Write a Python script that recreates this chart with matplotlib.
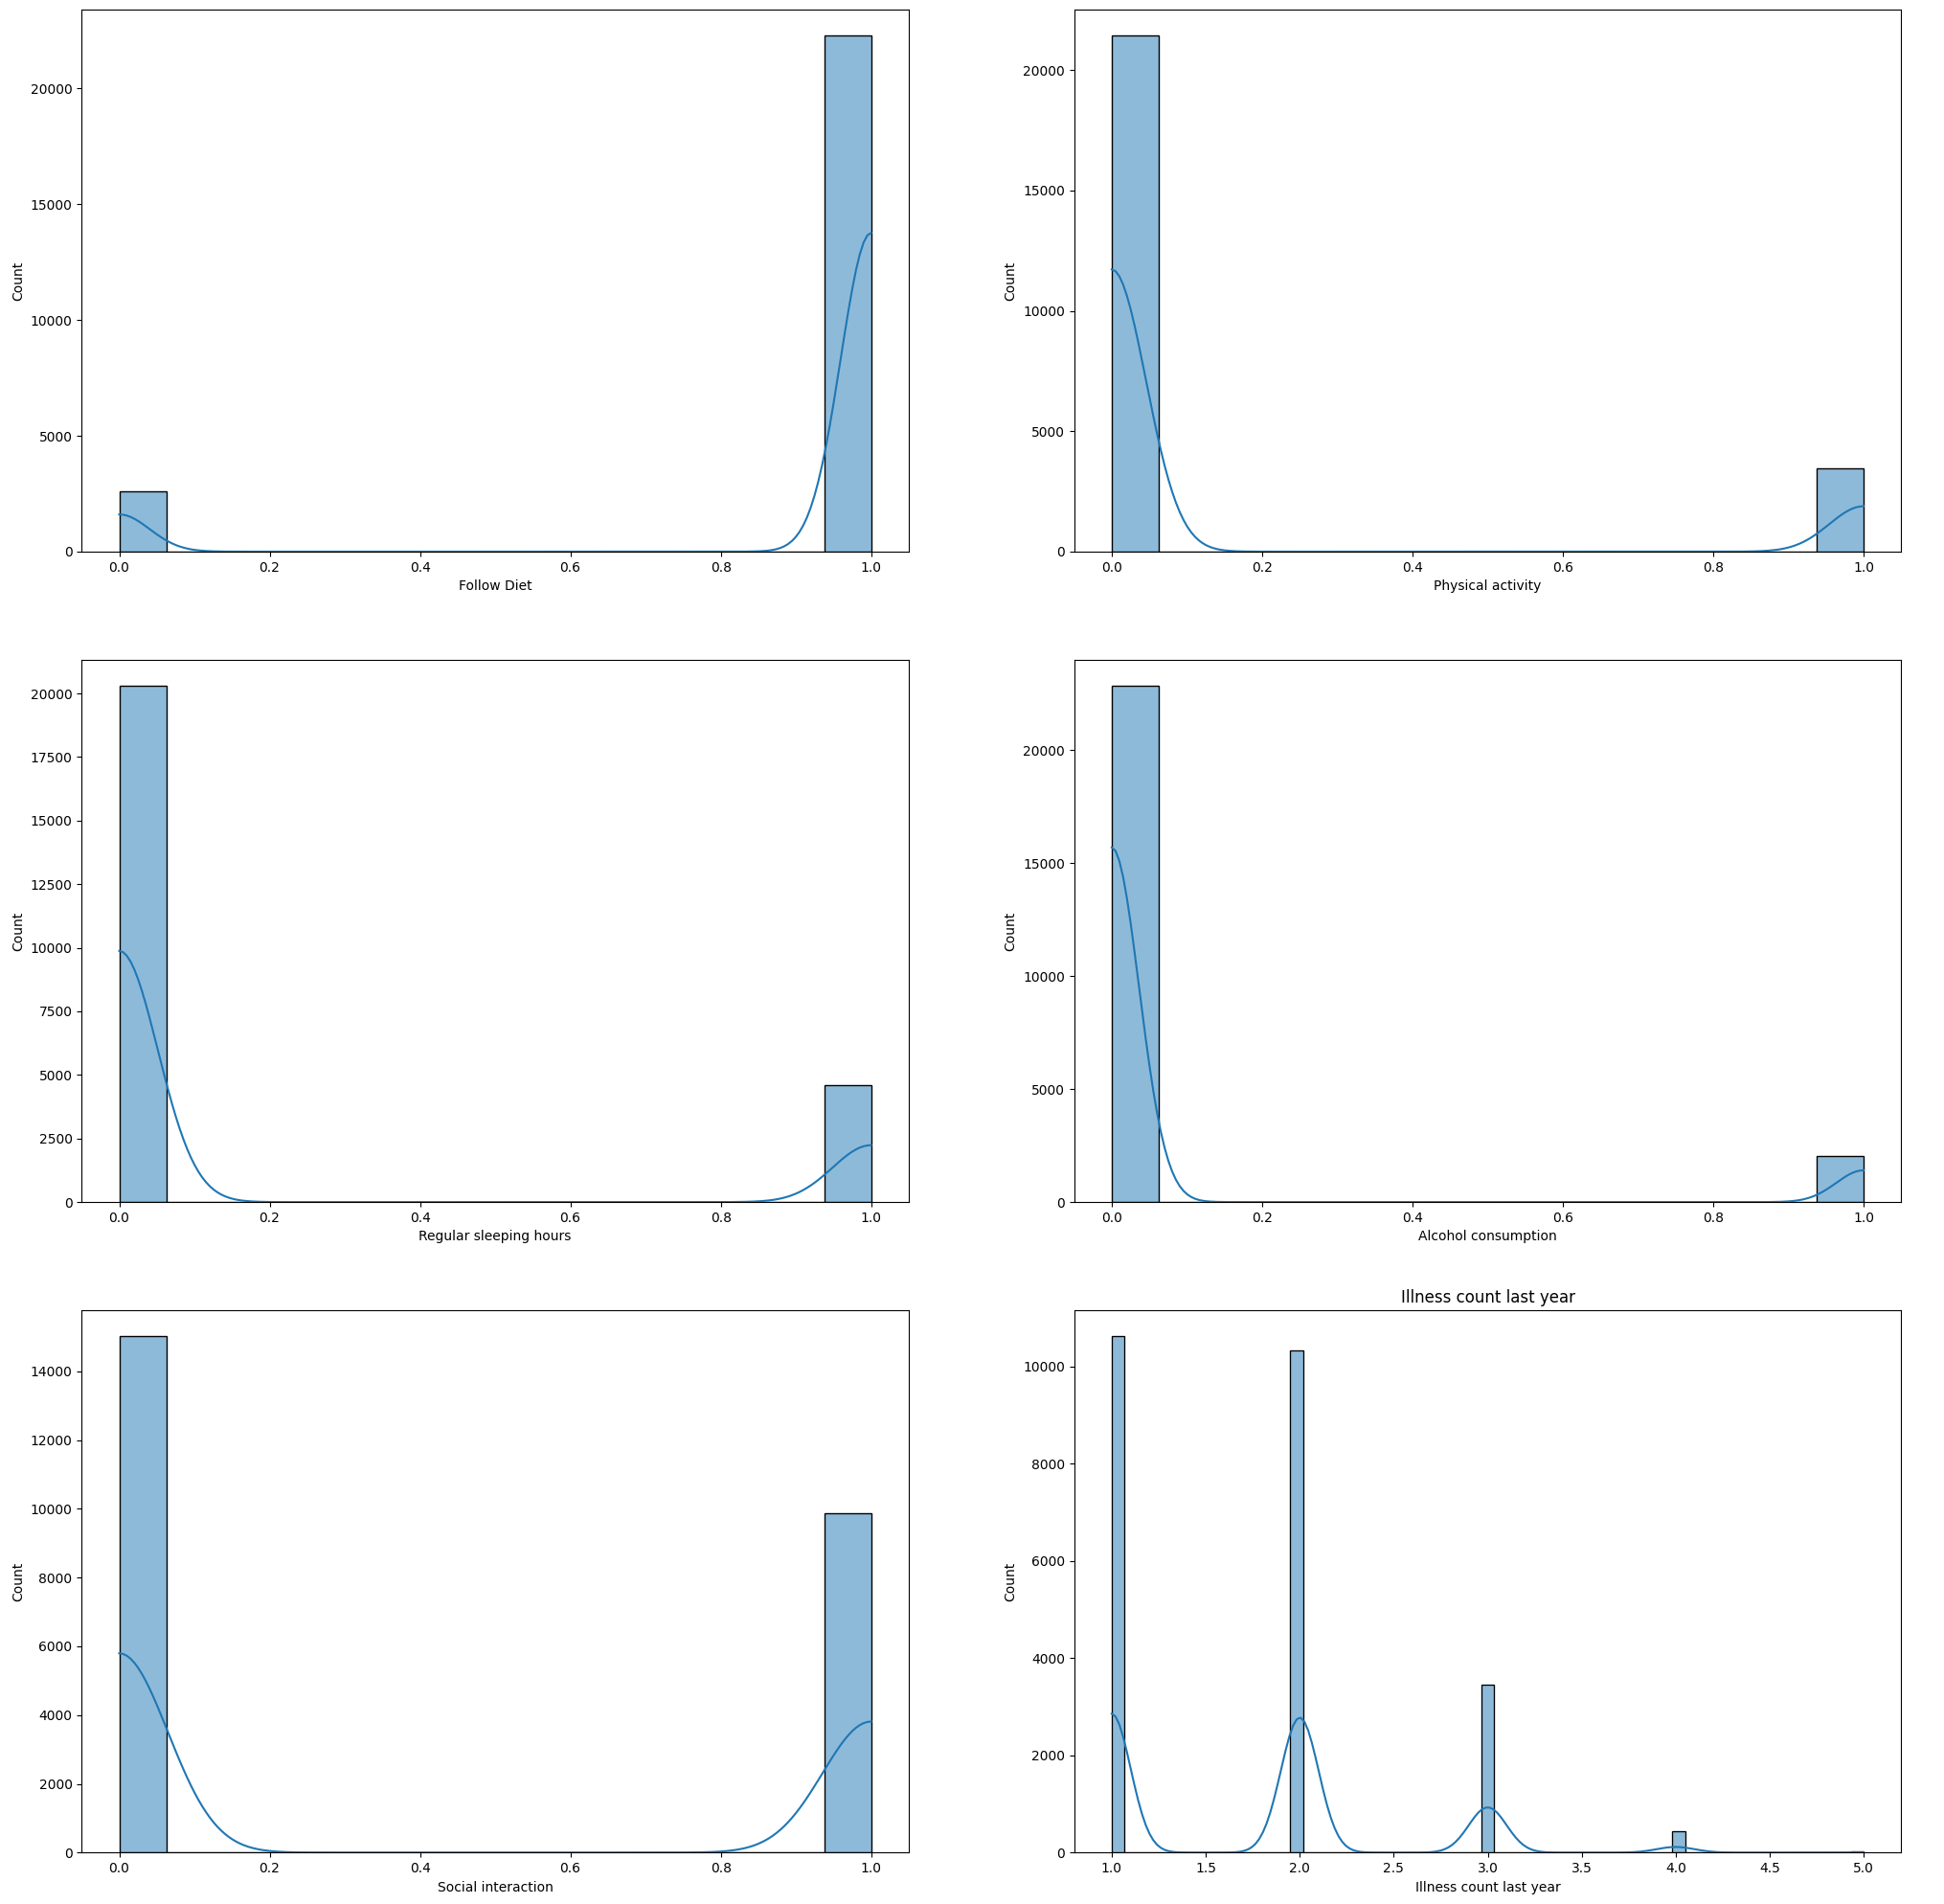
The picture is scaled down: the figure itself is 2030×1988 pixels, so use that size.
import matplotlib
matplotlib.use("Agg")
import matplotlib.pyplot as plt
import numpy as np
import pandas as pd
import seaborn as sns

# counts
binary_values = [0, 1]
follow_diet_counts = [2600, 22300]
physical_activity_counts = [21450, 3450]
sleeping_counts = [20300, 4600]
alcohol_counts = [22850, 2050]
social_counts = [15020, 9880]

illness_values = [1, 2, 3, 4, 5]
illness_counts = [10620, 10330, 3460, 430, 20]

df = pd.DataFrame({
    "Follow Diet": np.repeat(binary_values, follow_diet_counts)[:24900],
    "Physical activity": np.repeat(binary_values, physical_activity_counts)[:24900],
    "Regular sleeping hours": np.repeat(binary_values, sleeping_counts)[:24900],
    "Alcohol consumption": np.repeat(binary_values, alcohol_counts)[:24900],
    "Social interaction": np.repeat(binary_values, social_counts)[:24900],
})
illness = pd.Series(np.repeat(illness_values, illness_counts), name="Illness count last year")

fig, axs = plt.subplots(3, 2, figsize=(20.3, 19.88))
fig.subplots_adjust(left=0.042, right=0.978, top=0.995, bottom=0.027,
                    wspace=0.2, hspace=0.2)
cols = list(df.columns)
for ax, col in zip(axs.flat[:5], cols):
    sns.histplot(df[col], kde=True, bins=16, ax=ax)

sns.histplot(illness, kde=True, ax=axs[2, 1])
axs[2, 1].set_title("Illness count last year")

fig.savefig("out.png", dpi=100)
